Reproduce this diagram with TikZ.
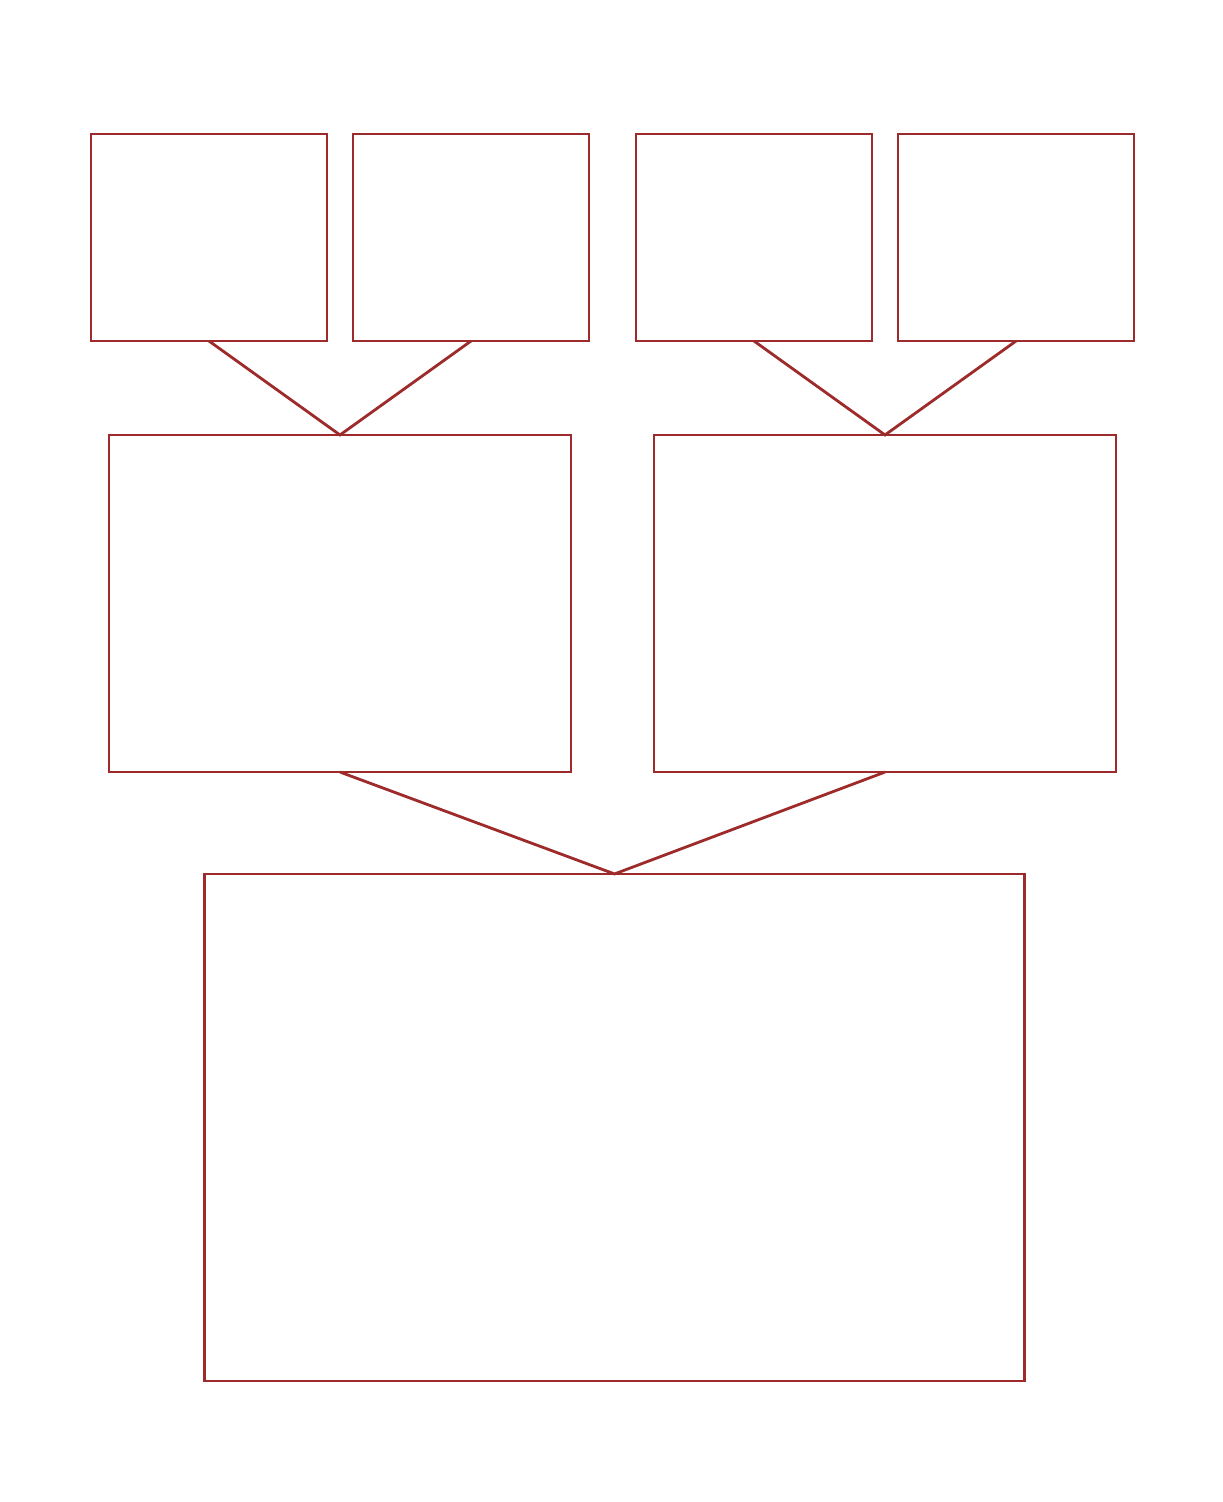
\documentclass[tikz,border=0pt]{standalone}
\usepackage{tikz}
\definecolor{boxred}{HTML}{9E2B2B}

\begin{document}
\begin{tikzpicture}[x=0.025cm, y=-0.025cm,
        box/.style={draw=boxred, line width=2pt, inner sep=0pt, outer sep=0pt},
        link/.style={draw=boxred, line width=2pt}]
        \useasboundingbox (0,0) rectangle (1223,1502);
        % top row
        \node [box, minimum width=5.9cm, minimum height=5.175cm] (a1) at (209,237.5) {};
        \node [box, minimum width=5.9cm, minimum height=5.175cm] (a2) at (471,237.5) {};
        \node [box, minimum width=5.9cm, minimum height=5.175cm] (a3) at (754,237.5) {};
        \node [box, minimum width=5.9cm, minimum height=5.175cm] (a4) at (1016,237.5) {};
        % middle row
        \node [box, minimum width=11.55cm, minimum height=8.425cm] (b1) at (340,603.5) {};
        \node [box, minimum width=11.55cm, minimum height=8.425cm] (b2) at (885,603.5) {};
        % bottom
        \node [box, minimum width=20.475cm, minimum height=12.675cm] (c) at (614.5,1127.5) {};
        \draw [link] (a1.south) -- (b1.north) -- (a2.south);
        \draw [link] (a3.south) -- (b2.north) -- (a4.south);
        \draw [link] (b1.south) -- (c.north) -- (b2.south);
    \end{tikzpicture}
\end{document}
